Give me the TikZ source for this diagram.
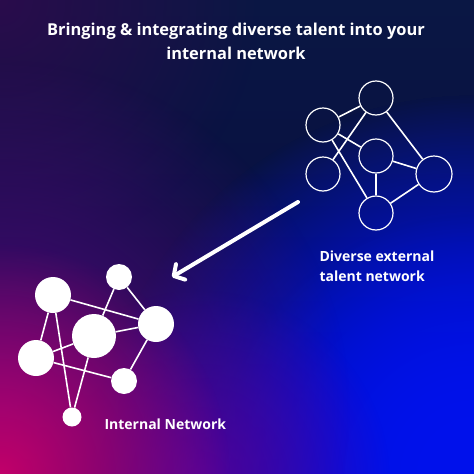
\documentclass[tikz,border=0pt]{standalone}
\usepackage{fontspec}
\setmainfont{Open Sans}
\usetikzlibrary{fadings,arrows.meta}
\definecolor{bgtop}{HTML}{0A1744}
\definecolor{bgbottom}{HTML}{06083E}
\definecolor{glowcorner}{HTML}{2A0C4C}
\definecolor{glowpurple}{HTML}{56087E}
\definecolor{glowviolet}{HTML}{4A00AC}
\definecolor{glowblue}{HTML}{0012EC}
\definecolor{glowmagenta}{HTML}{C2006A}
% radial fade: opaque at the centre, clear at the rim
\tikzfading[name=glow, inner color=transparent!0, outer color=transparent!100]

\begin{document}
\begin{tikzpicture}[x=1pt,y=-1pt,
    ext/.style={circle,draw=white,line width=1.2pt,inner sep=0pt,minimum size=34pt},
    int/.style={circle,fill=white,inner sep=0pt},
    link/.style={white,line width=1.6pt},
    caption/.style={text=white,align=left,font=\bfseries\fontsize{14}{20}\selectfont}]
    \useasboundingbox (0,0) rectangle (474,474);
    % background
    \begin{scope}
      \clip (0,0) rectangle (474,474);
      \shade[top color=bgtop,bottom color=bgbottom] (0,0) rectangle (474,474);
      \fill[glowcorner,path fading=glow] (0,0) circle (260);
      \fill[glowblue,path fading=glow] (474,474) circle (380);
      \fill[glowblue,path fading=glow] (474,474) circle (380);
      \fill[glowblue,path fading=glow] (474,474) circle (260);
      \fill[glowviolet,path fading=glow] (200,480) circle (190);
      \fill[glowpurple,path fading=glow] (0,410) circle (350);
      \fill[glowmagenta,path fading=glow] (0,474) circle (230);
    \end{scope}
    \node[text=white,align=center,font=\bfseries\fontsize{16.4}{24}\selectfont] (title) at (236,41)
      {Bringing \& integrating diverse talent into your\\internal network};
    % external network
    \node[ext] (ta) at (376,98) {};
    \node[ext] (tb) at (323,125) {};
    \node[ext] (tc) at (323,174) {};
    \node[ext] (td) at (376,156) {};
    \node[ext,minimum size=36pt] (te) at (434,174) {};
    \node[ext] (tf) at (376,213) {};
    \draw[link] (tb) -- (ta);
    \draw[link] (tc) -- (ta);
    \draw[link] (tb) -- (td);
    \draw[link] (tb) -- (tf);
    \draw[link] (ta) -- (te);
    \draw[link] (td) -- (te);
    \draw[link] (td) -- (tf);
    \draw[link] (tf) -- (te);
    \node[caption,anchor=west] (extlabel) at (316,266) {Diverse external\\talent network};
    % arrow
    \coordinate (arrowtail) at (298,202);
    \coordinate (arrowtip) at (172,277);
    \draw[white,line width=4pt,line cap=round,-{Straight Barb[length=8pt,width=18pt,round]}] (arrowtail) -- (arrowtip);
    % internal network
    \node[int,minimum size=36pt] (ia) at (53,295) {};
    \node[int,minimum size=26pt] (ib) at (119,277) {};
    \node[int,minimum size=44pt] (ic) at (94,336) {};
    \node[int,minimum size=36pt] (id) at (156,324) {};
    \node[int,minimum size=36pt] (ie) at (36,358) {};
    \node[int,minimum size=26pt] (if) at (124,381) {};
    \node[int,minimum size=19pt] (ig) at (72,417) {};
    \draw[link] (ia) -- (id);
    \draw[link] (ia) -- (ie);
    \draw[link] (ia) -- (ig);
    \draw[link] (ib) -- (ic);
    \draw[link] (ib) -- (id);
    \draw[link] (ic) -- (id);
    \draw[link] (ic) -- (ie);
    \draw[link] (ic) -- (ig);
    \draw[link] (ie) -- (if);
    \draw[link] (id) -- (if);
    \node[caption,anchor=west] (intlabel) at (101,424) {Internal Network};
\end{tikzpicture}
\end{document}
